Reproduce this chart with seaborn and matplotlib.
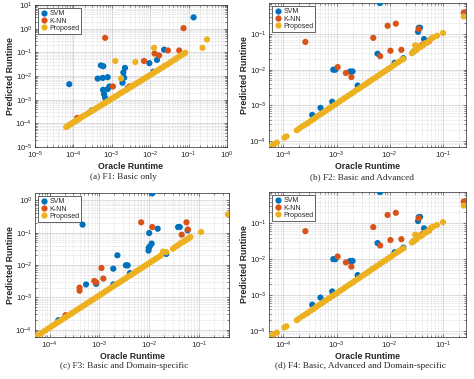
import numpy as np
import pandas as pd
import matplotlib
matplotlib.use('Agg')
import matplotlib.pyplot as plt
import seaborn as sns
from matplotlib.ticker import LogLocator, NullFormatter

METHODS = ['SVM', 'K-NN', 'Proposed']
PALETTE = {'SVM': '#0072BD', 'K-NN': '#D95319', 'Proposed': '#EDB120'}

# ── (a) F1: Basic only ───────────────────────────────────────────────────────
a_svm_x = [7.8e-5, 5.2e-4, 6.0e-4, 4.3e-4, 5.8e-4, 7.8e-4, 5.9e-4, 6.3e-4, 6.7e-4, 7.8e-4,
           8.7e-4, 2.0e-3, 2.2e-3, 2.1e-3, 1.9e-3, 9.5e-3, 1.5e-2, 2.3e-2, 1.35e-1,
           3.0e-4, 2.6e-3, 1.2e-2]
a_svm_y = [4.5e-3, 2.8e-2, 2.6e-2, 7.8e-3, 8.3e-3, 8.9e-3, 2.6e-3, 1.7e-3, 1.2e-3, 2.8e-3,
           3.6e-3, 1.4e-2, 2.2e-2, 8.5e-3, 5.2e-3, 3.5e-2, 4.8e-2, 1.3e-1, 3.0,
           3.5e-4, 3.1e-3, 1.5e-2]
a_knn_x = [6.7e-4, 1.07e-3, 6.9e-3, 1.3e-2, 1.7e-2, 2.9e-2, 5.7e-2, 7.4e-2, 1.26e-4, 2.9e-3]
a_knn_y = [4.1e-1, 3.6e-3, 4.3e-2, 8.9e-2, 7.4e-2, 1.2e-1, 1.2e-1, 1.05, 1.7e-4, 3.6e-3]
a_prop_x = [6.5e-5, 7.2e-5, 8.0e-5, 9.0e-5, 1.0e-4, 1.1e-4, 1.25e-4, 1.4e-4, 1.6e-4, 1.8e-4,
            2.0e-4, 2.3e-4, 2.6e-4, 3.0e-4, 3.4e-4, 3.9e-4, 4.4e-4, 5.0e-4, 5.7e-4, 6.5e-4,
            7.4e-4, 8.4e-4, 9.5e-4, 1.1e-3, 1.25e-3, 1.4e-3, 1.6e-3, 1.8e-3, 2.1e-3, 2.4e-3,
            2.7e-3, 3.1e-3, 3.5e-3, 4.0e-3, 4.6e-3, 5.2e-3, 6.0e-3, 6.8e-3, 7.8e-3, 9.0e-3,
            1.03e-2, 1.18e-2, 1.35e-2, 1.55e-2, 1.8e-2, 2.1e-2, 2.4e-2, 2.8e-2, 3.3e-2, 3.9e-2,
            4.5e-2, 5.2e-2, 6.0e-2, 7.0e-2, 8.2e-2,
            1.23e-3, 1.74e-3, 4.1e-3, 1.26e-2, 2.3e-1, 3.0e-1]
a_prop_y = [7.0e-5, 7.8e-5, 8.9e-5, 9.8e-5, 1.1e-4, 1.2e-4, 1.4e-4, 1.5e-4, 1.8e-4, 2.0e-4,
            2.2e-4, 2.5e-4, 2.9e-4, 3.3e-4, 3.7e-4, 4.3e-4, 4.8e-4, 5.5e-4, 6.3e-4, 7.1e-4,
            8.1e-4, 9.2e-4, 1.05e-3, 1.2e-3, 1.4e-3, 1.5e-3, 1.8e-3, 2.0e-3, 2.3e-3, 2.6e-3,
            3.0e-3, 3.4e-3, 3.9e-3, 4.4e-3, 5.1e-3, 5.7e-3, 6.6e-3, 7.5e-3, 8.6e-3, 9.9e-3,
            1.13e-2, 1.3e-2, 1.5e-2, 1.7e-2, 2.0e-2, 2.3e-2, 2.7e-2, 3.1e-2, 3.7e-2, 4.4e-2,
            5.1e-2, 6.0e-2, 7.0e-2, 8.2e-2, 9.6e-2,
            4.3e-2, 7.9e-3, 3.9e-2, 1.55e-1, 1.55e-1, 3.5e-1]

# ── (b) F2: Basic and Advanced  (panel (d) shows the same points) ────────────
b_svm_x = [6.5e-3, 3.5e-2, 3.7e-2, 3.4e-2, 4.4e-2, 5.9e-3, 8.7e-4, 9.5e-4, 1.8e-3, 2.0e-3,
           2.5e-3, 5.0e-4, 3.5e-4, 8.3e-4, 1.23e-2, 1.8e-2, 2.8e-2]
b_svm_y = [7.4e-1, 1.48e-1, 1.5e-1, 1.15e-1, 7.2e-2, 2.8e-2, 1.0e-2, 1.0e-2, 8.9e-3, 8.9e-3,
           3.6e-3, 8.5e-4, 5.4e-4, 1.26e-3, 1.55e-2, 2.1e-2, 3.2e-2]
b_knn_x = [2.6e-4, 1.05e-3, 1.5e-3, 1.9e-3, 4.9e-3, 6.6e-3, 9.1e-3, 1.3e-2, 1.03e-2, 1.65e-2,
           3.5e-2, 5.5e-2, 2.45e-1, 4.1e-2]
b_knn_y = [6.0e-2, 1.18e-2, 8.1e-3, 6.2e-3, 7.8e-2, 2.4e-2, 1.7e-1, 1.95e-1, 3.4e-2, 3.6e-2,
           1.38e-1, 6.3e-2, 4.0e-1, 5.0e-2]
b_prop_x = [5.8e-5, 6.6e-5, 7.6e-5, 1.05e-4, 1.15e-4,
            1.8e-4, 2.0e-4, 2.3e-4, 2.6e-4, 2.9e-4, 3.3e-4, 3.7e-4, 4.1e-4, 4.6e-4, 5.2e-4,
            5.8e-4, 6.5e-4, 7.3e-4, 8.2e-4, 9.2e-4, 1.03e-3, 1.16e-3, 1.3e-3, 1.46e-3, 1.64e-3,
            1.84e-3, 2.06e-3, 2.3e-3, 2.6e-3, 2.9e-3, 3.3e-3, 3.7e-3, 4.1e-3, 4.6e-3, 5.2e-3,
            5.8e-3, 6.5e-3, 7.3e-3, 8.2e-3, 9.2e-3, 1.03e-2, 1.16e-2, 1.3e-2, 1.46e-2, 1.64e-2,
            1.8e-2,
            2.6e-2, 2.9e-2, 3.0e-2, 3.2e-2, 3.5e-2, 3.8e-2, 4.2e-2, 4.6e-2, 5.0e-2, 5.5e-2,
            6.0e-2, 6.5e-2, 7.7e-2, 1.0e-1, 2.45e-1]
b_prop_y = [7.2e-5, 8.2e-5, 9.0e-5, 1.25e-4, 1.35e-4,
            2.0e-4, 2.25e-4, 2.6e-4, 2.9e-4, 3.2e-4, 3.7e-4, 4.1e-4, 4.6e-4, 5.2e-4, 5.8e-4,
            6.5e-4, 7.3e-4, 8.2e-4, 9.2e-4, 1.03e-3, 1.15e-3, 1.3e-3, 1.46e-3, 1.64e-3, 1.84e-3,
            2.06e-3, 2.3e-3, 2.6e-3, 2.9e-3, 3.25e-3, 3.7e-3, 4.1e-3, 4.6e-3, 5.2e-3, 5.8e-3,
            6.5e-3, 7.3e-3, 8.2e-3, 9.2e-3, 1.03e-2, 1.15e-2, 1.3e-2, 1.46e-2, 1.64e-2, 1.84e-2,
            2.0e-2,
            2.9e-2, 3.3e-2, 4.8e-2, 3.6e-2, 4.5e-2, 4.3e-2, 4.8e-2, 5.5e-2, 5.7e-2, 6.5e-2,
            7.5e-2, 8.0e-2, 8.9e-2, 1.07e-1, 3.1e-1]

# ── (c) F3: Basic and Domain-specific ────────────────────────────────────────
c_svm_x = [1.15e-2, 4.6e-4, 1.48e-2, 1.0e-2, 9.8e-3, 1.03e-2, 1.12e-2, 9.7e-3, 2.3e-3, 3.4e-3,
           3.7e-3, 1.9e-3, 5.4e-4, 8.6e-4, 3.8e-2, 4.1e-2, 5.9e-2, 1.5e-4, 2.2e-2, 1.9e-3,
           4.1e-3]
c_svm_y = [1.65, 1.78e-1, 1.33e-1, 9.8e-2, 3.4e-2, 3.8e-2, 4.6e-2, 2.8e-2, 2.0e-2, 9.8e-3,
           9.8e-3, 7.7e-3, 2.5e-3, 2.6e-3, 1.5e-1, 1.5e-1, 1.18e-1, 1.95e-4, 2.2e-2, 2.5e-3,
           5.6e-3]
c_knn_x = [6.9e-3, 1.15e-2, 1.1e-3, 1.2e-3, 4.0e-4, 4.0e-4, 7.9e-4, 8.6e-4, 4.5e-2, 6.0e-2,
           5.6e-2, 2.1e-4]
c_knn_y = [2.1e-1, 1.5e-1, 8.1e-3, 3.8e-3, 2.0e-3, 1.6e-3, 3.2e-3, 2.9e-3, 8.7e-2, 1.26e-1,
           2.1e-1, 2.8e-4]
c_prop_x = [5.4e-5, 6.1e-5, 7.0e-5, 8.2e-5, 9.5e-5, 1.08e-4, 1.2e-4, 1.35e-4, 1.5e-4, 1.7e-4,
            1.9e-4, 2.1e-4, 2.4e-4, 2.7e-4, 3.0e-4, 3.4e-4, 3.8e-4, 4.3e-4, 4.8e-4, 5.4e-4,
            6.1e-4, 6.8e-4, 7.6e-4, 8.6e-4, 9.6e-4, 1.08e-3, 1.21e-3, 1.36e-3, 1.52e-3, 1.7e-3,
            1.9e-3, 2.15e-3, 2.4e-3, 2.7e-3, 3.0e-3, 3.4e-3, 3.8e-3, 4.3e-3, 4.8e-3, 5.4e-3,
            6.0e-3, 6.8e-3, 7.6e-3, 8.5e-3, 9.5e-3, 1.07e-2, 1.2e-2, 1.35e-2, 1.5e-2, 1.7e-2,
            1.9e-2, 2.2e-2,
            3.0e-2, 3.3e-2, 3.7e-2, 4.1e-2, 4.5e-2, 5.0e-2, 5.5e-2, 6.1e-2, 6.7e-2,
            1.1e-1, 3.8e-1]
c_prop_y = [6.2e-5, 7.0e-5, 8.0e-5, 9.4e-5, 1.09e-4, 1.24e-4, 1.38e-4, 1.55e-4, 1.72e-4, 1.95e-4,
            2.2e-4, 2.4e-4, 2.75e-4, 3.1e-4, 3.45e-4, 3.9e-4, 4.4e-4, 4.9e-4, 5.5e-4, 6.2e-4,
            7.0e-4, 7.8e-4, 8.7e-4, 9.9e-4, 1.1e-3, 1.24e-3, 1.39e-3, 1.56e-3, 1.75e-3, 1.95e-3,
            2.2e-3, 2.5e-3, 2.75e-3, 3.1e-3, 3.45e-3, 3.9e-3, 4.4e-3, 4.9e-3, 5.5e-3, 6.2e-3,
            6.9e-3, 7.8e-3, 8.7e-3, 9.8e-3, 1.09e-2, 1.23e-2, 1.38e-2, 1.55e-2, 1.72e-2, 1.95e-2,
            2.6e-2, 2.5e-2,
            3.2e-2, 3.6e-2, 4.0e-2, 4.5e-2, 5.0e-2, 5.4e-2, 6.0e-2, 6.6e-2, 7.4e-2,
            1.05e-1, 3.7e-1]

CAPTIONS = ['(a) F1: Basic only', '(b) F2: Basic and Advanced',
            '(c) F3: Basic and Domain-specific', '(d) F4: Basic, Advanced and Domain-specific']


def panel_df(svm_x, svm_y, knn_x, knn_y, prop_x, prop_y):
    parts = []
    for name, xs, ys in [('SVM', svm_x, svm_y), ('K-NN', knn_x, knn_y), ('Proposed', prop_x, prop_y)]:
        parts.append(pd.DataFrame({'oracle': xs, 'predicted': ys, 'method': name}))
    return pd.concat(parts, ignore_index=True)


panels = [
    (panel_df(a_svm_x, a_svm_y, a_knn_x, a_knn_y, a_prop_x, a_prop_y), (1e-5, 1.0), (1e-5, 10.0)),
    (panel_df(b_svm_x, b_svm_y, b_knn_x, b_knn_y, b_prop_x, b_prop_y), (5.4e-5, 0.27), (6.8e-5, 0.74)),
    (panel_df(c_svm_x, c_svm_y, c_knn_x, c_knn_y, c_prop_x, c_prop_y), (5.1e-5, 0.4), (5.9e-5, 1.7)),
    (panel_df(b_svm_x, b_svm_y, b_knn_x, b_knn_y, b_prop_x, b_prop_y), (5.4e-5, 0.27), (6.8e-5, 0.74)),
]

sns.set_style('ticks')
plt.rcParams['font.family'] = ['Liberation Sans', 'DejaVu Sans']
plt.rcParams['mathtext.fontset'] = 'custom'
plt.rcParams['mathtext.rm'] = 'Liberation Sans'

fig = plt.figure(figsize=(4.74, 3.79), dpi=100)
W, H = 474, 379
boxes = [(35, 5, 227, 147), (269, 3, 466, 147), (35, 193, 229, 337), (269, 192, 466, 337)]
cap_pos = [(123, 177), (362, 177), (124, 366), (360, 366)]

for i, (df, xl, yl) in enumerate(panels):
    l, t, r, b = boxes[i]
    ax = fig.add_axes([l / W, 1 - b / H, (r - l) / W, (b - t) / H])
    ax.set_xscale('log')
    ax.set_yscale('log')
    sns.scatterplot(data=df, x='oracle', y='predicted', hue='method', hue_order=METHODS,
                    palette=PALETTE, s=20, linewidth=0, ax=ax, zorder=3)
    ax.set_xlim(*xl)
    ax.set_ylim(*yl)

    for axis in (ax.xaxis, ax.yaxis):
        axis.set_major_locator(LogLocator(base=10, numticks=15))
        axis.set_minor_locator(LogLocator(base=10, subs=np.arange(2, 10), numticks=15))
        axis.set_minor_formatter(NullFormatter())
    ax.grid(True, which='major', color='#cfcfcf', lw=0.5, ls='-')
    ax.grid(True, which='minor', color='#bdbdbd', lw=0.4, ls=':')
    ax.set_axisbelow(True)
    ax.tick_params(which='both', direction='in', top=True, right=True,
                   colors='#262626', labelsize=5.6, pad=2, width=0.4)
    ax.tick_params(which='major', length=2.5)
    ax.tick_params(which='minor', length=1.3)
    for sp in ax.spines.values():
        sp.set_color('#262626')
        sp.set_linewidth(0.5)

    ax.set_xlabel('Oracle Runtime', fontsize=6.3, fontweight='bold', labelpad=0.5)
    ax.set_ylabel('Predicted Runtime', fontsize=6.3, fontweight='bold', labelpad=0.5)

    handles, labels = ax.get_legend_handles_labels()
    for h in handles:
        h.set_markersize(4.5)
    ax.legend(handles, labels, loc='upper left', fontsize=5, frameon=True, fancybox=False,
              edgecolor='#262626', framealpha=1, borderpad=0.25, labelspacing=0.05,
              handletextpad=0.1, handlelength=1.2, borderaxespad=0.5).get_frame().set_linewidth(0.5)

    cx, cy = cap_pos[i]
    fig.text(cx / W, 1 - cy / H, CAPTIONS[i], ha='center', va='center',
             family=['Liberation Serif', 'DejaVu Serif'], fontsize=6.7)

fig.savefig('out.png', dpi=100)
plt.close()
